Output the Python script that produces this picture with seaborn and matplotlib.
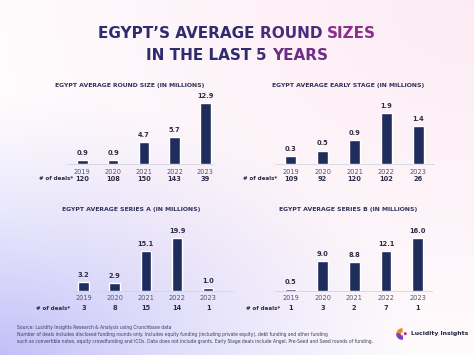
import numpy as np
import matplotlib
matplotlib.use("Agg")
import matplotlib.pyplot as plt
import seaborn as sns
from matplotlib.patches import Wedge, Circle

# data
years = ["2019", "2020", "2021", "2022", "2023"]
round_size = [0.9, 0.9, 4.7, 5.7, 12.9]
round_deals = [120, 108, 150, 143, 39]
early_stage = [0.3, 0.5, 0.9, 1.9, 1.4]
early_deals = [109, 92, 120, 102, 26]
series_a = [3.2, 2.9, 15.1, 19.9, 1.0]
series_a_deals = [3, 8, 15, 14, 1]
series_b = [0.5, 9.0, 8.8, 12.1, 16.0]
series_b_deals = [1, 3, 2, 7, 1]

titles = ["EGYPT AVERAGE ROUND SIZE (IN MILLIONS)",
          "EGYPT AVERAGE EARLY STAGE (IN MILLIONS)",
          "EGYPT AVERAGE SERIES A (IN MILLIONS)",
          "EGYPT AVERAGE SERIES B (IN MILLIONS)"]

NAVY = "#1f2d5c"
DARK = "#2b2d45"
GREY = "#55576a"

W, H = 474, 355
sns.set_theme(style="white")
plt.rcParams["font.family"] = ["DejaVu Sans"]

fig = plt.figure(figsize=(W / 100, H / 100), dpi=100)

# background gradient
xx, yy = np.meshgrid(np.linspace(0, 1, W), np.linspace(0, 1, H))
d_lav = np.sqrt((xx * 1.0) ** 2 + ((1 - yy) * 1.2) ** 2)
w_lav = np.clip(1 - d_lav / 0.9, 0, 1) ** 1.3
d_pink = np.sqrt(((1 - xx) * 1.0) ** 2 + (yy * 1.0) ** 2)
w_pink = np.clip(1 - d_pink / 1.15, 0, 1) ** 0.8 * 0.95
lav = np.array([0.76, 0.75, 0.97])
pink = np.array([0.99, 0.92, 0.955])
img = np.ones((H, W, 3))
img = img * (1 - w_lav - w_pink)[..., None] + lav * w_lav[..., None] + pink * w_pink[..., None]
bg = fig.add_axes([0, 0, 1, 1], zorder=-1)
bg.imshow(np.clip(img, 0, 1), aspect="auto", extent=[0, 1, 0, 1])
bg.axis("off")

# main title, pieces coloured like the gradient
title_font = dict(fontsize=11, fontweight="heavy", family=["DejaVu Sans"], va="center")
lines = [([("EGYPT\u2019S AVERAGE ", "#2e2b6e"), ("ROUND ", "#4b2c7c"), ("SIZES", "#8b2f8e")], 33),
         ([("IN THE LAST ", "#2e2b6e"), ("5 ", "#442c79"), ("YEARS", "#6e2e88")], 55)]
renderer = fig.canvas.get_renderer()
for pieces, ypx in lines:
    texts = []
    for txt, col in pieces:
        t = fig.text(0, 1 - ypx / H, txt, color=col, **title_font)
        texts.append(t)
    widths = [t.get_window_extent(renderer).width for t in texts]
    x0 = (W / 2 - sum(widths) / 2)
    for t, w in zip(texts, widths):
        t.set_x(x0 / W)
        x0 += w

# panels: data, deals, pixel layout (left, right, baseline, height), xlim max, ylim top,
# title centre, "# of deals*" right edge, year / deals offsets below baseline
panels = [
    (round_size, round_deals, (67, 213, 164, 64), 4.25, 13.5, (130, 85), 73, (8, 14.5)),
    (early_stage, early_deals, (275, 434, 164, 64), 4.5, 2.38, (348, 85), 277, (8, 14.5)),
    (series_a, series_a_deals, (68, 233, 291, 64), 4.8, 24.0, (131, 210), 70, (7, 17)),
    (series_b, series_b_deals, (275, 432, 291, 64), 4.45, 19.3, (348, 209), 280, (7, 17)),
]

for (vals, deals, (l, r, base, h), xmax, ytop, (tx, ty), lab_x, (yoff, doff)), title in zip(panels, titles):
    ax = fig.add_axes([l / W, (H - base) / H, (r - l) / W, h / H])
    ax.patch.set_alpha(0)
    sns.barplot(x=years, y=vals, color=NAVY, saturation=1, width=0.34, ax=ax)
    ax.set_xlim(-0.5, xmax)
    ax.set_ylim(0, ytop)
    ax.set_xticks([])
    ax.set_yticks([])
    ax.set_xlabel("")
    ax.set_ylabel("")
    for s in ["top", "left", "right"]:
        ax.spines[s].set_visible(False)
    ax.spines["bottom"].set_color("#d4d4de")
    ax.spines["bottom"].set_linewidth(0.6)
    for i, v in enumerate(vals):
        ax.annotate(f"{v:.1f}", xy=(i, v), xytext=(0, 3), textcoords="offset points",
                    ha="center", va="bottom", fontsize=4.8, fontweight="bold", color=DARK)
        ax.annotate(years[i], xy=(i, 0), xycoords=("data", "axes fraction"),
                    xytext=(0, -yoff * 0.72), textcoords="offset points",
                    ha="center", va="center", fontsize=4.8, color=GREY)
        ax.annotate(str(deals[i]), xy=(i, 0), xycoords=("data", "axes fraction"),
                    xytext=(0, -doff * 0.72), textcoords="offset points",
                    ha="center", va="center", fontsize=4.8, fontweight="bold", color=DARK)
    fig.text(lab_x / W, 1 - (base + doff) / H, "# of deals*", ha="right", va="center",
             fontsize=4.0, fontweight="bold", color=DARK)
    fig.text(tx / W, 1 - ty / H, title, ha="center", va="center", fontsize=4.4,
             fontweight="bold", color="#2e3157")

# footer
footer = ["Source: Lucidity Insights Research & Analysis using Crunchbase data",
          "Number of deals includes disclosed funding rounds only. Includes equity funding (including private equity), debt funding and other funding",
          "such as convertible notes, equity crowdfunding and ICOs. Data does not include grants. Early Stage deals include Angel, Pre-Seed and Seed rounds of funding."]
for k, line in enumerate(footer):
    fig.text(17 / W, 1 - (328 + k * 6.7) / H, line, ha="left", va="center",
             fontsize=3.25, color="#3a3c5a")

fig.text(411 / W, 1 - 334 / H, "Lucidity Insights", ha="left", va="center",
         fontsize=4.4, fontweight="bold", color="#22243a")
logo = fig.add_axes([396 / W, (H - 340) / H, 12 / W, 12 / H])
logo.set_xlim(-1, 1)
logo.set_ylim(-1, 1)
logo.add_patch(Wedge((0, 0), 0.85, 90, 180, width=0.5, color="#f08a2c"))
logo.add_patch(Wedge((0, 0), 0.85, 180, 275, width=0.5, color="#7a3fc0"))
logo.add_patch(Circle((0.55, 0.05), 0.14, color="#c0367a"))
logo.axis("off")

fig.savefig("out.png", dpi=100)
